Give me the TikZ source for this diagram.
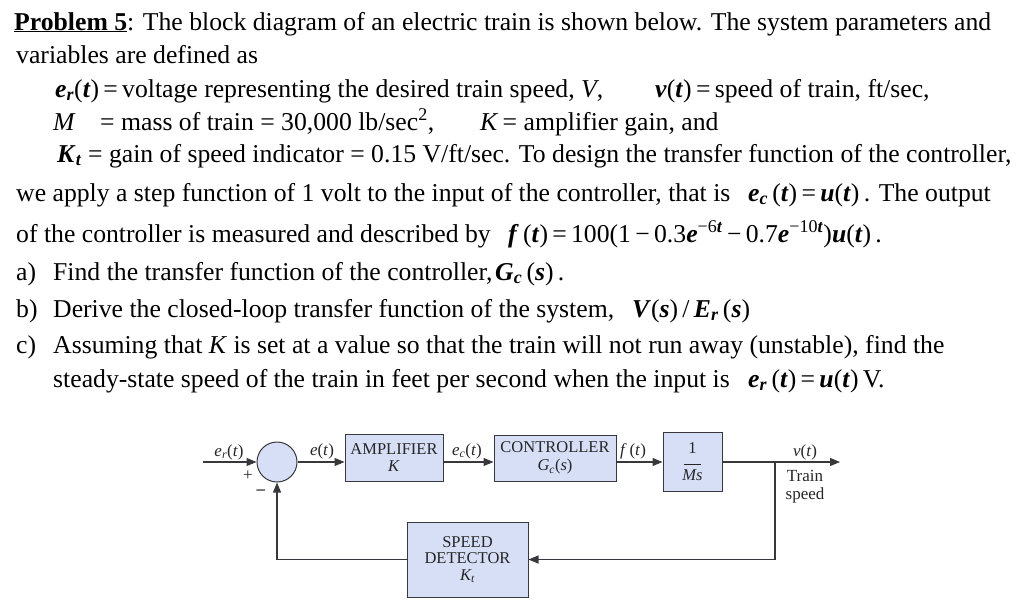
\documentclass[tikz,border=0pt]{standalone}
\usepackage{fontspec}
\setmainfont{Liberation Serif}
\usepackage{tikz}
\usetikzlibrary{
  shapes,
  arrows.meta,
  positioning,  % Function "of" (e.g. [right=of x])
  calc,
}
\definecolor{boxfill}{RGB}{214,223,246}
\definecolor{linec}{RGB}{55,55,60}
\newcommand{\bi}  [1]{\textbf{\textit{#1}}}
\newcommand{\sub} [1]{\textsubscript{#1}}
\def\mytsize{\fontsize{25.7}{29}\selectfont}
\def\mydsize{\fontsize{16.5}{18.5}\selectfont}
\tikzset{
  x=1pt,
  y=-1pt,
  txt/.style={
    anchor=base west,
    inner sep=0pt,
    font=\mytsize
  },
  my block/.style={
    draw=linec,
    fill=boxfill,
    line width=1pt,
    align=center,
    inner sep=0pt,
    text=black!85,
    font=\mydsize
  },
  my sum/.style={
    my block,
    circle,
    minimum size=40pt
  },
  sig/.style={
    draw=linec,
    line width=1.1pt,
    -{Triangle[length=10pt,width=8pt]}
  },
  lbl/.style={
    inner sep=0pt,
    text=black!85,
    font=\fontsize{17}{19}\selectfont
  }
}
\begin{document}
\begin{tikzpicture}
\useasboundingbox (0,0) rectangle (1024,605);
% problem text
\node[txt] (l1)  at (14,30)  {\underline{\textbf{Problem 5}}: The block diagram of an electric train is shown below. The system parameters and};
\node[txt] (l2)  at (16,63)  {variables are defined as};
\node[txt] (l3a) at (55,97)  {\bi{e}\sub{\bi{r}}(\bi{t})\,=\,voltage representing the desired train speed, \textit{V},};
\node[txt] (l3b) at (655,97) {\bi{v}(\bi{t})\,=\,speed of train, ft/sec,};
\node[txt] (l4a) at (53,130) {\textit{M}};
\node[txt] (l4b) at (100,130) {= mass of train = 30,000 lb/sec\textsuperscript{2},};
\node[txt] (l4c) at (480,130) {\textit{K}\,= amplifier gain, and};
\node[txt] (l5)  at (57,162) {\bi{K}\sub{\bi{t}} = gain of speed indicator = 0.15 V/ft/sec. To design the transfer function of the controller,};
\node[txt] (l6a) at (16,201) {we apply a step function of 1 volt to the input of the controller, that is};
\node[txt] (l6b) at (748,201) {\bi{e}\sub{\bi{c}}\,(\bi{t})\,=\,\bi{u}(\bi{t})\,. The output};
\node[txt] (l7a) at (16,242) {of the controller is measured and described by};
\node[txt] (l7b) at (508,242) {\bi{f}\,(\bi{t})\,=\,100(1\,−\,0.3\bi{e}\textsuperscript{−6\bi{t}}\,−\,0.7\bi{e}\textsuperscript{−10\bi{t}})\bi{u}(\bi{t})\,.};
\node[txt] (l8a) at (16,280) {a)};
\node[txt] (l8b) at (53,280) {Find the transfer function of the controller,};
\node[txt] (l8c) at (495,280) {\bi{G}\sub{\bi{c}}\,(\bi{s})\,.};
\node[txt] (l9a) at (16,317) {b)};
\node[txt] (l9b) at (53,317) {Derive the closed-loop transfer function of the system,};
\node[txt] (l9c) at (632,317) {\bi{V}(\bi{s})\,/\,\bi{E}\sub{\bi{r}}\,(\bi{s})};
\node[txt] (l10a) at (16,353) {c)};
\node[txt] (l10b) at (53,353) {Assuming that \textit{K} is set at a value so that the train will not run away (unstable), find the};
\node[txt] (l11a) at (53,387) {steady-state speed of the train in feet per second when the input is};
\node[txt] (l11b) at (748,387) {\bi{e}\sub{\bi{r}}\,(\bi{t})\,=\,\bi{u}(\bi{t})\,V.};
% block diagram
\node[my sum] (sum) at (277,462) {};
\node[my block, minimum width=98, minimum height=47] (amp) at (394,457.5)
  {AMPLIFIER\\[-2pt]\textit{K}};
\node[my block, minimum width=122, minimum height=46] (ctrl) at (555,458)
  {CONTROLLER\\[-1pt]\textit{G\sub{c}}(\textit{s})};
\node[my block, minimum width=59, minimum height=59] (plant) at (692.5,461.5)
  {1\\[-7pt]\rule{17pt}{0.7pt}\\[-3pt]\textit{Ms}};
\node[my block, minimum width=121, minimum height=75] (det) at (467.5,559.5)
  {SPEED\\[-2pt]DETECTOR\\[-2pt]\textit{K\sub{t}}};
\coordinate (in)  at (203,462);
\coordinate (out) at (840,462);
\coordinate (br)  at (775,462);
\draw[sig] (in) -- (sum.west);
\draw[sig] (sum.east) -- (sum.east -| amp.west);
\draw[sig] (sum -| amp.east) -- (sum -| ctrl.west);
\draw[sig] (sum -| ctrl.east) -- (sum -| plant.west);
\draw[sig] (sum -| plant.east) -- (out);
\draw[sig] (br) |- (det.east);
\draw[sig] (det.west) -| (sum.south);
% signal labels
\node[lbl] (er)  at (229,452) {\textit{e\sub{r}}(\textit{t})};
\node[lbl] (pl)  at (248,476) {+};
\node[lbl] (mi)  at (261,492) {\textbf{–}};
\node[lbl] (e)   at (322,451) {\textit{e}(\textit{t})};
\node[lbl] (ec)  at (467,451) {\textit{e\sub{c}}(\textit{t})};
\node[lbl] (f)   at (633,451) {\textit{f}\,(\textit{t})};
\node[lbl] (v)   at (805,452) {\textit{v}(\textit{t})};
\node[lbl] (tr)  at (805,476) {Train};
\node[lbl] (sp)  at (805,495) {speed};
\end{tikzpicture}
\end{document}
